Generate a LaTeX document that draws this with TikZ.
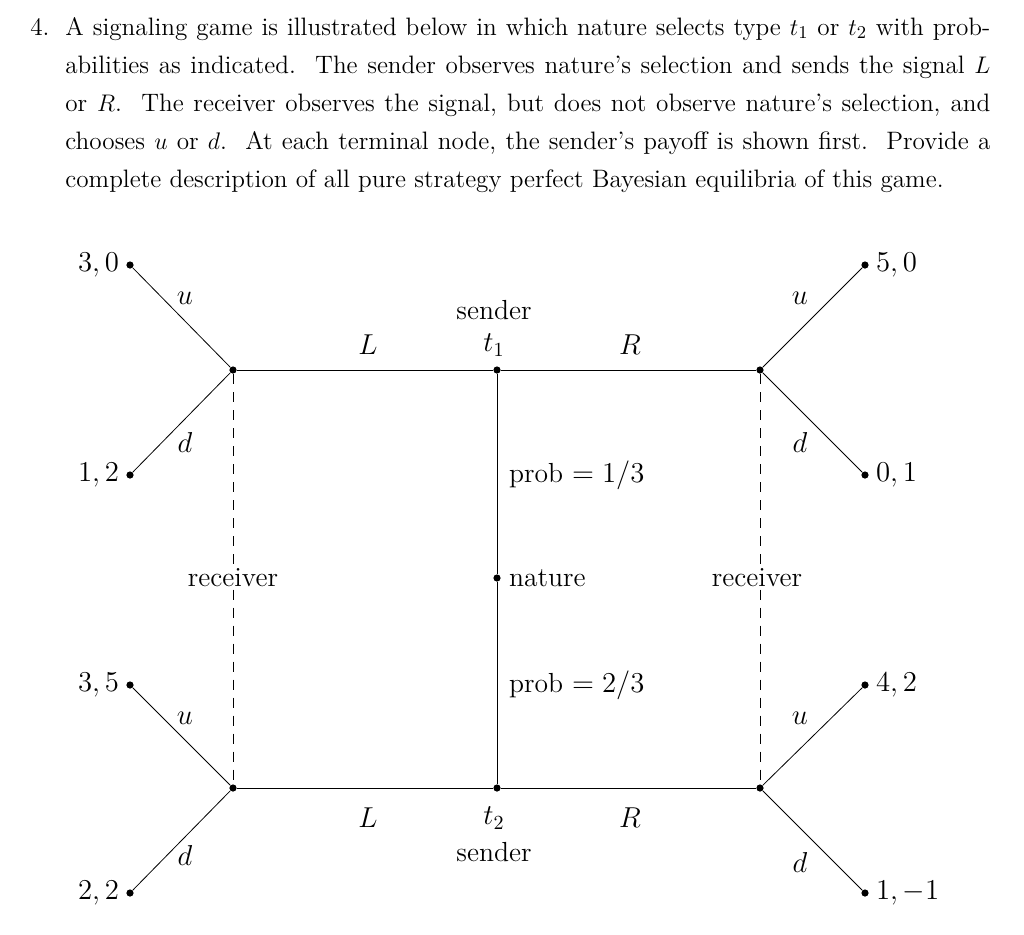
\documentclass[tikz,border=0pt]{standalone}
\begin{document}
\begin{tikzpicture}[x=0.5pt,y=-0.5pt,
  every node/.style={font=\fontsize{13.8}{16}\selectfont},
  dot/.style={circle,fill,inner sep=0pt,minimum size=3.6pt},
  ln/.style={anchor=base west,inner sep=0pt,font=\fontsize{12.6}{15}\selectfont},
  lab/.style={inner sep=1pt},
  dsh/.style={dash pattern=on 5pt off 4pt}]
\useasboundingbox (0,0) rectangle (1024,934);
\node[ln] at (30,35) {4.};
\node[ln] at (65,35) {\makebox[462.5pt][s]{A signaling game is illustrated below in which nature selects type $t_1$ or $t_2$ with prob-}};
\node[ln] at (65,73) {\makebox[462.5pt][s]{abilities as indicated.\ \ The sender observes nature's selection and sends the signal $L$}};
\node[ln] at (65,111) {\makebox[462.5pt][s]{or $R$.\ \ The receiver observes the signal, but does not observe nature's selection, and}};
\node[ln] at (65,149) {\makebox[462.5pt][s]{chooses $u$ or $d$.\ \ At each terminal node, the sender's payoff is shown first.\ \ Provide a}};
\node[ln] at (65,187) {complete description of all pure strategy perfect Bayesian equilibria of this game.};
% decision nodes
\node[dot] (lt) at (233,370) {};
\node[dot] (t1) at (497,370) {};
\node[dot] (rt) at (760,370) {};
\node[dot] (nat) at (497,578) {};
\node[dot] (lb) at (233,788) {};
\node[dot] (t2) at (497,788) {};
\node[dot] (rb) at (760,788) {};
% terminals
\node[dot] (a1) at (130,265) {}; \node[anchor=east] at (a1.west) {$3,0$};
\node[dot] (a2) at (130,475) {}; \node[anchor=east] at (a2.west) {$1,2$};
\node[dot] (a3) at (130,685) {}; \node[anchor=east] at (a3.west) {$3,5$};
\node[dot] (a4) at (130,893) {}; \node[anchor=east] at (a4.west) {$2,2$};
\node[dot] (b1) at (865,265) {}; \node[anchor=west] at (b1.east) {$5,0$};
\node[dot] (b2) at (865,475) {}; \node[anchor=west] at (b2.east) {$0,1$};
\node[dot] (b3) at (865,685) {}; \node[anchor=west] at (b3.east) {$4,2$};
\node[dot] (b4) at (865,893) {}; \node[anchor=west] at (b4.east) {$1,-1$};
% edges
\draw (lt) -- (t1) -- (rt);
\draw (lb) -- (t2) -- (rb);
\draw (t1) -- (nat) -- (t2);
\draw (lt) -- (a1); \draw (lt) -- (a2);
\draw (lb) -- (a3); \draw (lb) -- (a4);
\draw (rt) -- (b1); \draw (rt) -- (b2);
\draw (rb) -- (b3); \draw (rb) -- (b4);
% receiver info sets
\node[fill=white,lab] (rl) at (233,578) {receiver};
\node[fill=white,lab] (rr) at (757,578) {receiver};
\draw[dsh] (lt) -- (rl) -- (lb);
\draw[dsh] (rt) -- (rr.north -| rt) (rr.south -| rt) -- (rb);
% labels
\node at (185,298) {$u$}; \node at (185,442) {$d$};
\node at (185,718) {$u$}; \node at (185,855) {$d$};
\node at (800,298) {$u$}; \node at (800,442) {$d$};
\node at (800,718) {$u$}; \node at (800,862) {$d$};
\node at (368,345) {$L$}; \node at (630,345) {$R$};
\node at (368,818) {$L$}; \node at (630,818) {$R$};
\node at (494,310) {sender}; \node at (494,345) {$t_1$};
\node at (494,818) {$t_2$}; \node at (494,852) {sender};
\node[anchor=west] at (502,475) {prob $=1/3$};
\node[anchor=west] at (502,685) {prob $=2/3$};
\node[anchor=west] at (502,578) {nature};
\end{tikzpicture}
\end{document}
